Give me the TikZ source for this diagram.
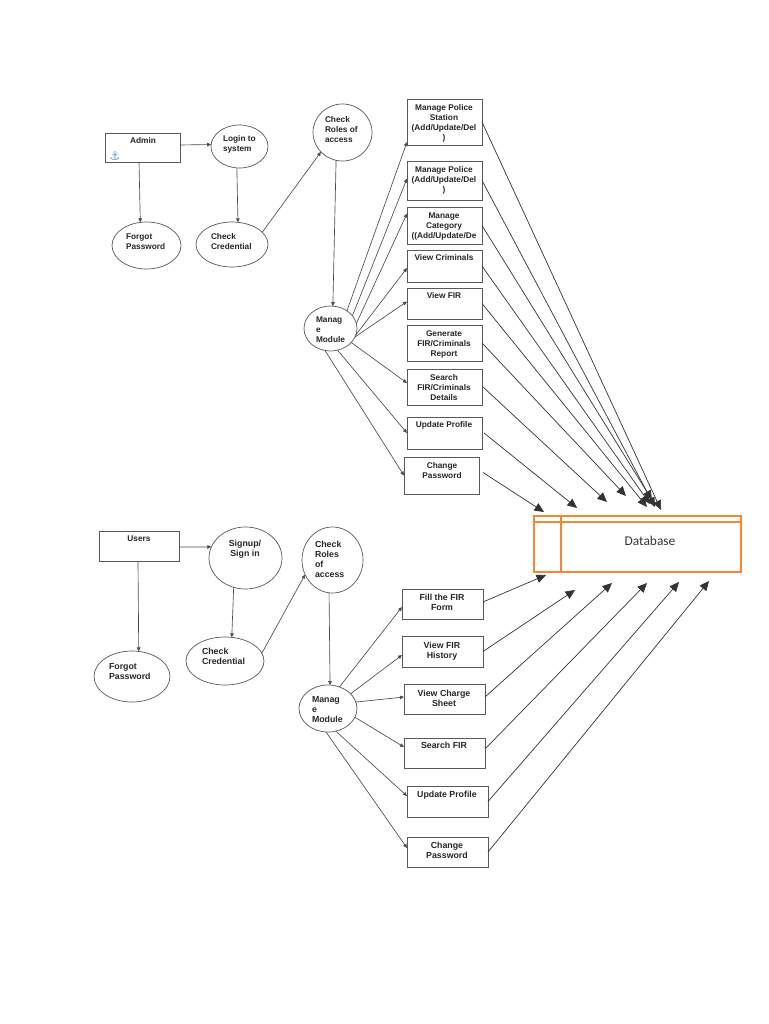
\documentclass[tikz,border=0pt]{standalone}
\usepackage{fontspec}
\setmainfont{Liberation Sans}
\newfontfamily\dbfont{Carlito}
\newfontfamily\symfont{DejaVu Sans}
\usetikzlibrary{shapes.geometric,arrows.meta}
\definecolor{dborange}{HTML}{F58634}
\definecolor{anchorblue}{HTML}{5B9BD5}
\newcommand{\fl}{\rule{0pt}{6.5pt}}
\tikzset{
  shp/.style={draw=black!65,line width=0.7pt,inner sep=0pt,outer sep=0pt,fill=white},
  lb/.style={inner sep=0pt,outer sep=0pt,text=black!85,font=\fontsize{#1}{10pt}\selectfont\bfseries},
  lb/.default=8.3,
  lc/.style={lb=#1,anchor=north,align=center},
  lc/.default=8.3,
  ll/.style={lb=#1,anchor=north west,align=left},
  ll/.default=8.3,
  con/.style={draw=black!70,line width=0.65pt,-{Triangle[length=4pt,width=3.6pt]}},
  dbarrow/.style={draw=black!80,line width=0.7pt,-{Triangle[length=9.5pt,width=8.5pt]}},
}
% name, x1, y1, x2, y2
\newcommand{\rbox}[5]{\node[shp,rectangle,minimum width={(#4-#2)*1pt},minimum height={(#5-#3)*1pt}] (#1) at ({(#2+#4)/2},{(#3+#5)/2}) {};}
\newcommand{\ebox}[5]{\node[shp,ellipse,minimum width={(#4-#2)*1pt},minimum height={(#5-#3)*1pt}] (#1) at ({(#2+#4)/2},{(#3+#5)/2}) {};}
\begin{document}
\begin{tikzpicture}[x=1pt,y=-1pt]
\path[use as bounding box,fill=white] (0,0) rectangle (768,1024);

% ===== Admin part =====
\rbox{admin}{105}{133}{180}{162}
\node[lc] (admint) at (143,137) {\fl Admin};
\node[inner sep=0pt,text=anchorblue,font=\symfont\fontsize{12}{12}\selectfont] (anchoricon) at (115,156) {\symbol{"2693}};
\ebox{login}{211}{125}{268}{168}
\node[ll] (logint) at (223,135) {\fl Login to\\system};
\ebox{roles}{313}{104}{372}{161}
\node[ll] (rolest) at (325,116) {\fl Check\\Roles of\\access};
\ebox{forgot}{112}{222}{181}{269}
\node[ll] (forgott) at (126,233) {\fl Forgot\\Password};
\ebox{cred}{196}{222}{268}{267}
\node[ll] (credt) at (211,233) {\fl Check\\Credential};
\ebox{mm}{304}{306}{357}{351}
\node[ll] (mmt) at (316,316) {\fl Manag\\e\\Module};

\rbox{station}{407}{99}{482}{145}
\node[lc] (stationt) at (444,104) {\fl Manage Police\\Station\\(Add/Update/Del\\)};
\rbox{police}{407}{161}{482}{200}
\node[lc] (policet) at (444,166) {\fl Manage Police\\(Add/Update/Del\\)};
\rbox{categ}{407}{207}{482}{244}
\node[lc] (categt) at (444,212) {\fl Manage\\Category\\((Add/Update/De};
\rbox{vcrim}{407}{250}{482}{282}
\node[lc] (vcrimt) at (444,254) {\fl View Criminals};
\rbox{vfir}{407}{288}{482}{319}
\node[lc] (vfirt) at (444,292) {\fl View FIR};
\rbox{gen}{407}{325}{482}{361}
\node[lc] (gent) at (444,330) {\fl Generate\\FIR/Criminals\\Report};
\rbox{search}{407}{369}{482}{405}
\node[lc] (searcht) at (444,374) {\fl Search\\FIR/Criminals\\Details};
\rbox{upd}{407}{417}{482}{449}
\node[lc] (updt) at (444,421) {\fl Update Profile};
\rbox{chg}{404}{457}{479}{494}
\node[lc] (chgt) at (442,462) {\fl Change\\Password};

\draw[con] ([yshift=2.5pt]admin.east) -- (login.176);
\draw[con] ([xshift=-3.5pt]admin.south) -- (forgot.105);
\draw[con] (login.-97) -- (cred.75);
\draw[con] (cred.22) -- (roles.-138);
\draw[con] (roles.-103) -- (mm.84);

\draw[con] (mm.47) -- ([yshift=-20pt]station.west);
\draw[con] (mm.30) -- ([yshift=2pt]police.west);
\draw[con] (mm.11) -- ([yshift=12pt]categ.west);
\draw[con] (mm.-14) -- ([yshift=-2pt]vcrim.west);
\draw[con] (mm.-19) -- ([yshift=2pt]vfir.west);
\draw[con] (mm.-34) -- ([yshift=4pt]search.west);
\draw[con] (mm.-72) -- (upd.west);
\draw[con] (mm.-104) -- (chg.west);

% ===== Database =====
\node[draw=dborange,line width=1.2pt,inner sep=0pt,outer sep=0pt,rectangle,minimum width=207pt,minimum height=56pt] (db) at (637.5,544) {};
\draw[draw=dborange,line width=1.1pt] ([yshift=-6pt]db.north west) -- ([yshift=-6pt]db.north east);
\draw[draw=dborange,line width=1.1pt] ([xshift=27pt]db.north west) -- ([xshift=27pt]db.south west);
\node[inner sep=0pt,text=black!80,font=\dbfont\fontsize{13.4}{14}\selectfont] (dbt) at (650,541) {Database};

\coordinate (d1) at (661,510);
\coordinate (d2) at (655,507);
\coordinate (d3) at (652,500);
\coordinate (d4) at (650,504);
\coordinate (d5) at (647,507);
\coordinate (d6) at (626,496);
\coordinate (d7) at (607,502);
\coordinate (d8) at (577,508);
\coordinate (d9) at (544,512);
\draw[dbarrow] (station.east) -- (d1);
\draw[dbarrow] (police.east) -- (d2);
\draw[dbarrow] (categ.east) -- (d3);
\draw[dbarrow] (vcrim.east) -- (d4);
\draw[dbarrow] (vfir.east) -- (d5);
\draw[dbarrow] (gen.east) -- (d6);
\draw[dbarrow] ([xshift=1pt]search.east) -- (d7);
\draw[dbarrow] ([xshift=2pt]upd.east) -- (d8);
\draw[dbarrow] ([xshift=4pt,yshift=3pt]chg.east) -- (d9);

% ===== Users part =====
\rbox{users}{99}{531}{179}{561}
\node[lc] (userst) at (139,535) {\fl Users};
\ebox{signup}{209}{527}{282}{589}
\node[lc=8.8] (signupt) at (245,540) {\fl Signup/\\Sign in};
\ebox{rolesb}{302}{527}{363}{593}
\node[ll=8.8] (rolesbt) at (315,541) {\fl Check\\Roles\\of\\access};
\ebox{forgotb}{94}{651}{170}{702}
\node[ll=8.8] (forgotbt) at (109,663) {\fl Forgot\\Password};
\ebox{credb}{186}{637}{264}{685}
\node[ll=8.8] (credbt) at (202,648) {\fl Check\\Credential};
\ebox{mmb}{299}{685}{357}{732}
\node[ll=8.8] (mmbt) at (312,696) {\fl Manag\\e\\Module};

\rbox{fill}{402}{589}{483}{619}
\node[lc=8.8] (fillt) at (442,594) {\fl Fill the FIR\\Form};
\rbox{hist}{402}{636}{483}{667}
\node[lc=8.8] (histt) at (442,642) {\fl View FIR\\History};
\rbox{charge}{404}{684}{485}{714}
\node[lc=8.8] (charget) at (444,690) {\fl View Charge\\Sheet};
\rbox{sfir}{404}{738}{485}{768}
\node[lc=8.8] (sfirt) at (444,742) {\fl Search FIR};
\rbox{updb}{407}{786}{488}{817}
\node[lc=8.8] (updbt) at (447,791) {\fl Update Profile};
\rbox{chgb}{407}{837}{488}{867}
\node[lc=8.8] (chgbt) at (447,842) {\fl Change\\Password};

\draw[con] ([yshift=-1pt]users.east) -- (signup.162);
\draw[con] ([xshift=-1pt]users.south) -- (forgotb.75);
\draw[con] (signup.-112) -- (credb.74);
\draw[con] (credb.12) -- (rolesb.-152);
\draw[con] (rolesb.-96) -- (mmb.85);

\draw[con] (mmb.62) -- ([yshift=-3pt]fill.west);
\draw[con] (mmb.33) -- ([yshift=-3.5pt]hist.west);
\draw[con] (mmb.13) -- ([yshift=2pt]charge.west);
\draw[con] (mmb.-18) -- ([yshift=6pt]sfir.west);
\draw[con] (mmb.-71) -- ([yshift=5.5pt]updb.west);
\draw[con] (mmb.-95) -- ([yshift=4pt]chgb.west);

\coordinate (u1) at (546,575);
\coordinate (u2) at (575,590);
\coordinate (u3) at (612,583);
\coordinate (u4) at (647,583);
\coordinate (u5) at (679,582);
\coordinate (u6) at (709,581);
\draw[dbarrow] ([yshift=2pt]fill.east) -- (u1);
\draw[dbarrow] (hist.east) -- (u2);
\draw[dbarrow] ([yshift=2pt]charge.east) -- (u3);
\draw[dbarrow] ([yshift=4pt]sfir.east) -- (u4);
\draw[dbarrow] (updb.east) -- (u5);
\draw[dbarrow] (chgb.east) -- (u6);
\end{tikzpicture}
\end{document}
